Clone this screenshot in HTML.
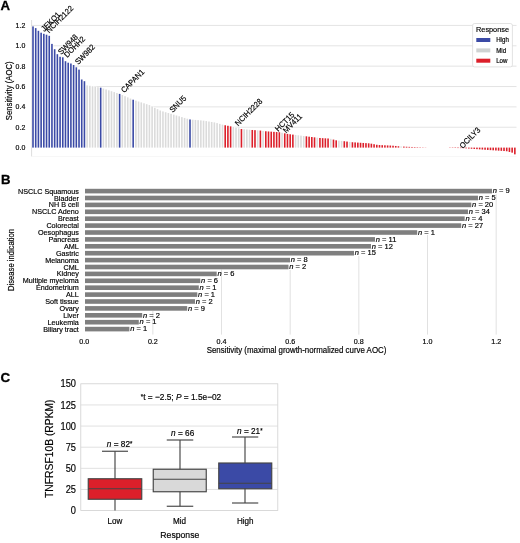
<!DOCTYPE html>
<html lang="en"><head><meta charset="utf-8"><title>Figure</title>
<style>html,body{margin:0;padding:0;background:#fff}svg{display:block}text{font-family:"Liberation Sans",Arial,Helvetica,sans-serif;fill:#000;stroke:#000;stroke-width:0.18px}.b{font-weight:bold;stroke-width:.3px}.i{font-style:italic}</style>
</head><body>
<svg width="520" height="543" viewBox="0 0 520 543">
<rect width="520" height="543" fill="#fff"/>
<g id="panelA">
<text transform="translate(0.60,10.10)" font-size="13.2" class="b">A</text>
<text transform="translate(25.30,150.20) scale(0.93,1)" font-size="7.5" text-anchor="end">0.0</text>
<line x1="31.6" y1="127.24" x2="516.5" y2="127.24" stroke="#d9d9d9" stroke-width="0.7"/>
<text transform="translate(25.30,129.84) scale(0.93,1)" font-size="7.5" text-anchor="end">0.2</text>
<line x1="31.6" y1="106.88" x2="516.5" y2="106.88" stroke="#d9d9d9" stroke-width="0.7"/>
<text transform="translate(25.30,109.48) scale(0.93,1)" font-size="7.5" text-anchor="end">0.4</text>
<line x1="31.6" y1="86.52" x2="516.5" y2="86.52" stroke="#d9d9d9" stroke-width="0.7"/>
<text transform="translate(25.30,89.12) scale(0.93,1)" font-size="7.5" text-anchor="end">0.6</text>
<line x1="31.6" y1="66.16" x2="516.5" y2="66.16" stroke="#d9d9d9" stroke-width="0.7"/>
<text transform="translate(25.30,68.76) scale(0.93,1)" font-size="7.5" text-anchor="end">0.8</text>
<line x1="31.6" y1="45.80" x2="516.5" y2="45.80" stroke="#d9d9d9" stroke-width="0.7"/>
<text transform="translate(25.30,48.40) scale(0.93,1)" font-size="7.5" text-anchor="end">1.0</text>
<line x1="31.6" y1="25.44" x2="516.5" y2="25.44" stroke="#d9d9d9" stroke-width="0.7"/>
<text transform="translate(25.30,28.04) scale(0.93,1)" font-size="7.5" text-anchor="end">1.2</text>
<line x1="31.6" y1="20" x2="31.6" y2="156.5" stroke="#cfcfcf" stroke-width="0.7"/>
<line x1="31.6" y1="156.5" x2="516.5" y2="156.5" stroke="#f3f3f3" stroke-width="0.7"/>
<text transform="translate(12.20,90.80) rotate(-90) scale(0.93,1)" font-size="8.3" text-anchor="middle">Sensitivity (AOC)</text>
<path d="M31.60 26.10h2.81v121.50h-2.81zM34.30 27.80h2.81v119.80h-2.81zM37.01 30.50h2.81v117.10h-2.81zM39.72 32.40h2.81v115.20h-2.81zM42.42 33.50h2.81v114.10h-2.81zM45.13 34.40h2.81v113.20h-2.81zM47.84 35.50h2.81v112.10h-2.81zM50.55 43.60h2.81v104.00h-2.81zM53.25 48.90h2.81v98.70h-2.81zM55.96 53.90h2.81v93.70h-2.81zM58.67 56.50h2.81v91.10h-2.81zM61.37 57.00h2.81v90.60h-2.81zM64.08 60.90h2.81v86.70h-2.81zM66.79 62.40h2.81v85.20h-2.81zM69.49 63.20h2.81v84.40h-2.81zM72.20 64.70h2.81v82.90h-2.81zM74.91 67.00h2.81v80.60h-2.81zM77.62 69.30h2.81v78.30h-2.81zM80.32 79.20h2.81v68.40h-2.81zM83.03 80.90h2.81v66.70h-2.81zM85.74 85.10h2.81v62.50h-2.81zM88.44 85.49h2.81v62.11h-2.81zM91.15 85.96h2.81v61.64h-2.81zM93.86 86.43h2.81v61.17h-2.81zM96.56 86.91h2.81v60.69h-2.81zM99.27 87.38h2.81v60.22h-2.81zM101.98 88.25h2.81v59.35h-2.81zM104.69 89.14h2.81v58.46h-2.81zM107.39 90.02h2.81v57.58h-2.81zM110.10 90.91h2.81v56.69h-2.81zM112.81 91.80h2.81v55.80h-2.81zM115.51 92.69h2.81v54.91h-2.81zM118.22 93.58h2.81v54.02h-2.81zM120.93 94.74h2.81v52.86h-2.81zM123.63 95.91h2.81v51.69h-2.81zM126.34 97.08h2.81v50.52h-2.81zM129.05 98.25h2.81v49.35h-2.81zM131.76 99.42h2.81v48.18h-2.81zM134.46 100.31h2.81v47.29h-2.81zM137.17 101.20h2.81v46.40h-2.81zM139.88 102.09h2.81v45.51h-2.81zM142.58 102.98h2.81v44.62h-2.81zM145.29 103.88h2.81v43.72h-2.81zM148.00 104.80h2.81v42.80h-2.81zM150.70 106.15h2.81v41.45h-2.81zM153.41 107.51h2.81v40.09h-2.81zM156.12 108.86h2.81v38.74h-2.81zM158.83 110.21h2.81v37.39h-2.81zM161.53 111.13h2.81v36.47h-2.81zM164.24 111.93h2.81v35.67h-2.81zM166.95 112.73h2.81v34.87h-2.81zM169.65 113.53h2.81v34.07h-2.81zM172.36 114.35h2.81v33.25h-2.81zM175.07 115.17h2.81v32.43h-2.81zM177.77 115.99h2.81v31.61h-2.81zM180.48 116.82h2.81v30.78h-2.81zM183.19 117.63h2.81v29.97h-2.81zM185.90 118.40h2.81v29.20h-2.81zM188.60 119.17h2.81v28.43h-2.81zM191.31 119.41h2.81v28.19h-2.81zM194.02 119.63h2.81v27.97h-2.81zM196.72 119.85h2.81v27.75h-2.81zM199.43 120.07h2.81v27.53h-2.81zM202.14 120.37h2.81v27.23h-2.81zM204.84 120.80h2.81v26.80h-2.81zM207.55 121.23h2.81v26.37h-2.81zM210.26 121.67h2.81v25.93h-2.81zM212.97 122.10h2.81v25.50h-2.81zM215.67 122.79h2.81v24.81h-2.81zM218.38 123.57h2.81v24.03h-2.81zM221.09 124.34h2.81v23.26h-2.81zM223.79 124.97h2.81v22.63h-2.81zM226.50 125.48h2.81v22.12h-2.81zM229.21 126.05h2.81v21.55h-2.81zM231.91 126.63h2.81v20.97h-2.81zM234.62 127.21h2.81v20.39h-2.81zM237.33 128.02h2.81v19.58h-2.81zM240.04 128.74h2.81v18.86h-2.81zM242.74 128.97h2.81v18.63h-2.81zM245.45 129.21h2.81v18.39h-2.81zM248.16 129.44h2.81v18.16h-2.81zM250.86 129.68h2.81v17.92h-2.81zM253.57 129.86h2.81v17.74h-2.81zM256.28 130.05h2.81v17.55h-2.81zM258.98 130.25h2.81v17.35h-2.81zM261.69 130.63h2.81v16.97h-2.81zM264.40 130.96h2.81v16.64h-2.81zM267.11 131.16h2.81v16.44h-2.81zM269.81 131.36h2.81v16.24h-2.81zM272.52 131.55h2.81v16.05h-2.81zM275.23 131.75h2.81v15.85h-2.81zM277.93 131.95h2.81v15.65h-2.81zM280.64 132.43h2.81v15.17h-2.81zM283.35 133.01h2.81v14.59h-2.81zM286.05 133.58h2.81v14.02h-2.81zM288.76 133.97h2.81v13.63h-2.81zM291.47 134.31h2.81v13.29h-2.81zM294.18 134.65h2.81v12.95h-2.81zM296.88 134.99h2.81v12.61h-2.81zM299.59 135.33h2.81v12.27h-2.81zM302.30 135.68h2.81v11.92h-2.81zM305.00 136.03h2.81v11.57h-2.81zM307.71 136.38h2.81v11.22h-2.81zM310.42 136.72h2.81v10.88h-2.81zM313.12 137.04h2.81v10.56h-2.81zM315.83 137.37h2.81v10.23h-2.81zM318.54 137.69h2.81v9.91h-2.81zM321.25 137.86h2.81v9.74h-2.81zM323.95 138.02h2.81v9.58h-2.81zM326.66 138.18h2.81v9.42h-2.81zM329.37 138.52h2.81v9.08h-2.81zM332.07 139.29h2.81v8.31h-2.81zM334.78 140.02h2.81v7.58h-2.81zM337.49 140.32h2.81v7.28h-2.81zM340.19 140.62h2.81v6.98h-2.81zM342.90 140.92h2.81v6.68h-2.81zM345.61 141.26h2.81v6.34h-2.81zM348.32 141.61h2.81v5.99h-2.81zM351.02 141.93h2.81v5.67h-2.81zM353.73 142.11h2.81v5.49h-2.81zM356.44 142.29h2.81v5.31h-2.81zM359.14 142.47h2.81v5.13h-2.81zM361.85 142.65h2.81v4.95h-2.81zM364.56 142.83h2.81v4.77h-2.81zM367.26 143.01h2.81v4.59h-2.81zM369.97 143.38h2.81v4.22h-2.81zM372.68 143.92h2.81v3.68h-2.81zM375.39 144.46h2.81v3.14h-2.81zM378.09 144.76h2.81v2.84h-2.81zM380.80 144.88h2.81v2.72h-2.81zM383.51 145.00h2.81v2.60h-2.81zM386.21 145.11h2.81v2.49h-2.81zM388.92 145.23h2.81v2.37h-2.81zM391.63 145.40h2.81v2.20h-2.81zM394.33 145.67h2.81v1.93h-2.81zM397.04 145.94h2.81v1.66h-2.81zM399.75 146.16h2.81v1.44h-2.81zM402.46 146.29h2.81v1.31h-2.81z" fill="#fff"/>
<rect x="32.20" y="26.40" width="1.6" height="121.20" fill="#3b4aa6"/>
<rect x="34.91" y="28.10" width="1.6" height="119.50" fill="#3b4aa6"/>
<rect x="37.61" y="30.80" width="1.6" height="116.80" fill="#3b4aa6"/>
<rect x="40.32" y="32.70" width="1.6" height="114.90" fill="#3b4aa6"/>
<rect x="43.03" y="33.80" width="1.6" height="113.80" fill="#3b4aa6"/>
<rect x="45.73" y="34.70" width="1.6" height="112.90" fill="#3b4aa6"/>
<rect x="48.44" y="35.80" width="1.6" height="111.80" fill="#3b4aa6"/>
<rect x="51.15" y="43.90" width="1.6" height="103.70" fill="#3b4aa6"/>
<rect x="53.86" y="49.20" width="1.6" height="98.40" fill="#3b4aa6"/>
<rect x="56.56" y="54.20" width="1.6" height="93.40" fill="#3b4aa6"/>
<rect x="59.27" y="56.80" width="1.6" height="90.80" fill="#3b4aa6"/>
<rect x="61.98" y="57.30" width="1.6" height="90.30" fill="#3b4aa6"/>
<rect x="64.68" y="61.20" width="1.6" height="86.40" fill="#3b4aa6"/>
<rect x="67.39" y="62.70" width="1.6" height="84.90" fill="#3b4aa6"/>
<rect x="70.10" y="63.50" width="1.6" height="84.10" fill="#3b4aa6"/>
<rect x="72.80" y="65.00" width="1.6" height="82.60" fill="#3b4aa6"/>
<rect x="75.51" y="67.30" width="1.6" height="80.30" fill="#3b4aa6"/>
<rect x="78.22" y="69.60" width="1.6" height="78.00" fill="#3b4aa6"/>
<rect x="80.93" y="79.50" width="1.6" height="68.10" fill="#3b4aa6"/>
<rect x="83.63" y="81.20" width="1.6" height="66.40" fill="#3b4aa6"/>
<rect x="86.34" y="85.40" width="1.6" height="62.20" fill="#dbdbdb"/>
<rect x="89.05" y="85.79" width="1.6" height="61.81" fill="#dbdbdb"/>
<rect x="91.75" y="86.26" width="1.6" height="61.34" fill="#dbdbdb"/>
<rect x="94.46" y="86.73" width="1.6" height="60.87" fill="#dbdbdb"/>
<rect x="97.17" y="87.21" width="1.6" height="60.39" fill="#dbdbdb"/>
<rect x="99.88" y="87.68" width="1.6" height="59.92" fill="#3b4aa6"/>
<rect x="102.58" y="88.55" width="1.6" height="59.05" fill="#dbdbdb"/>
<rect x="105.29" y="89.44" width="1.6" height="58.16" fill="#dbdbdb"/>
<rect x="108.00" y="90.32" width="1.6" height="57.28" fill="#dbdbdb"/>
<rect x="110.70" y="91.21" width="1.6" height="56.39" fill="#dbdbdb"/>
<rect x="113.41" y="92.10" width="1.6" height="55.50" fill="#dbdbdb"/>
<rect x="116.12" y="92.99" width="1.6" height="54.61" fill="#dbdbdb"/>
<rect x="118.82" y="93.88" width="1.6" height="53.72" fill="#3b4aa6"/>
<rect x="121.53" y="95.04" width="1.6" height="52.56" fill="#dbdbdb"/>
<rect x="124.24" y="96.21" width="1.6" height="51.39" fill="#dbdbdb"/>
<rect x="126.94" y="97.38" width="1.6" height="50.22" fill="#dbdbdb"/>
<rect x="129.65" y="98.55" width="1.6" height="49.05" fill="#dbdbdb"/>
<rect x="132.36" y="99.72" width="1.6" height="47.88" fill="#3b4aa6"/>
<rect x="135.07" y="100.61" width="1.6" height="46.99" fill="#dbdbdb"/>
<rect x="137.77" y="101.50" width="1.6" height="46.10" fill="#dbdbdb"/>
<rect x="140.48" y="102.39" width="1.6" height="45.21" fill="#dbdbdb"/>
<rect x="143.19" y="103.28" width="1.6" height="44.32" fill="#dbdbdb"/>
<rect x="145.89" y="104.18" width="1.6" height="43.42" fill="#dbdbdb"/>
<rect x="148.60" y="105.10" width="1.6" height="42.50" fill="#dbdbdb"/>
<rect x="151.31" y="106.45" width="1.6" height="41.15" fill="#dbdbdb"/>
<rect x="154.01" y="107.81" width="1.6" height="39.79" fill="#dbdbdb"/>
<rect x="156.72" y="109.16" width="1.6" height="38.44" fill="#dbdbdb"/>
<rect x="159.43" y="110.51" width="1.6" height="37.09" fill="#dbdbdb"/>
<rect x="162.14" y="111.43" width="1.6" height="36.17" fill="#dbdbdb"/>
<rect x="164.84" y="112.23" width="1.6" height="35.37" fill="#dbdbdb"/>
<rect x="167.55" y="113.03" width="1.6" height="34.57" fill="#dbdbdb"/>
<rect x="170.26" y="113.83" width="1.6" height="33.77" fill="#dbdbdb"/>
<rect x="172.96" y="114.65" width="1.6" height="32.95" fill="#dbdbdb"/>
<rect x="175.67" y="115.47" width="1.6" height="32.13" fill="#dbdbdb"/>
<rect x="178.38" y="116.29" width="1.6" height="31.31" fill="#dbdbdb"/>
<rect x="181.08" y="117.12" width="1.6" height="30.48" fill="#dbdbdb"/>
<rect x="183.79" y="117.93" width="1.6" height="29.67" fill="#dbdbdb"/>
<rect x="186.50" y="118.70" width="1.6" height="28.90" fill="#dbdbdb"/>
<rect x="189.21" y="119.47" width="1.6" height="28.13" fill="#3b4aa6"/>
<rect x="191.91" y="119.71" width="1.6" height="27.89" fill="#dbdbdb"/>
<rect x="194.62" y="119.93" width="1.6" height="27.67" fill="#dbdbdb"/>
<rect x="197.33" y="120.15" width="1.6" height="27.45" fill="#dbdbdb"/>
<rect x="200.03" y="120.37" width="1.6" height="27.23" fill="#dbdbdb"/>
<rect x="202.74" y="120.67" width="1.6" height="26.93" fill="#dbdbdb"/>
<rect x="205.45" y="121.10" width="1.6" height="26.50" fill="#dbdbdb"/>
<rect x="208.15" y="121.53" width="1.6" height="26.07" fill="#dbdbdb"/>
<rect x="210.86" y="121.97" width="1.6" height="25.63" fill="#dbdbdb"/>
<rect x="213.57" y="122.40" width="1.6" height="25.20" fill="#dbdbdb"/>
<rect x="216.28" y="123.09" width="1.6" height="24.51" fill="#dbdbdb"/>
<rect x="218.98" y="123.87" width="1.6" height="23.73" fill="#dbdbdb"/>
<rect x="221.69" y="124.64" width="1.6" height="22.96" fill="#dbdbdb"/>
<rect x="224.40" y="125.27" width="1.6" height="22.33" fill="#dc1f2a"/>
<rect x="227.10" y="125.78" width="1.6" height="21.82" fill="#dc1f2a"/>
<rect x="229.81" y="126.35" width="1.6" height="21.25" fill="#dc1f2a"/>
<rect x="232.52" y="126.93" width="1.6" height="20.67" fill="#dbdbdb"/>
<rect x="235.22" y="127.51" width="1.6" height="20.09" fill="#dbdbdb"/>
<rect x="237.93" y="128.32" width="1.6" height="19.28" fill="#dbdbdb"/>
<rect x="240.64" y="129.04" width="1.6" height="18.56" fill="#dc1f2a"/>
<rect x="243.35" y="129.27" width="1.6" height="18.33" fill="#dbdbdb"/>
<rect x="246.05" y="129.51" width="1.6" height="18.09" fill="#dbdbdb"/>
<rect x="248.76" y="129.74" width="1.6" height="17.86" fill="#dbdbdb"/>
<rect x="251.47" y="129.98" width="1.6" height="17.62" fill="#dc1f2a"/>
<rect x="254.17" y="130.16" width="1.6" height="17.44" fill="#dc1f2a"/>
<rect x="256.88" y="130.35" width="1.6" height="17.25" fill="#dbdbdb"/>
<rect x="259.59" y="130.55" width="1.6" height="17.05" fill="#dc1f2a"/>
<rect x="262.30" y="130.93" width="1.6" height="16.67" fill="#dbdbdb"/>
<rect x="265.00" y="131.26" width="1.6" height="16.34" fill="#dc1f2a"/>
<rect x="267.71" y="131.46" width="1.6" height="16.14" fill="#dc1f2a"/>
<rect x="270.42" y="131.66" width="1.6" height="15.94" fill="#dc1f2a"/>
<rect x="273.12" y="131.85" width="1.6" height="15.75" fill="#dc1f2a"/>
<rect x="275.83" y="132.05" width="1.6" height="15.55" fill="#dc1f2a"/>
<rect x="278.54" y="132.25" width="1.6" height="15.35" fill="#dc1f2a"/>
<rect x="281.24" y="132.73" width="1.6" height="14.87" fill="#dbdbdb"/>
<rect x="283.95" y="133.31" width="1.6" height="14.29" fill="#dc1f2a"/>
<rect x="286.66" y="133.88" width="1.6" height="13.72" fill="#dc1f2a"/>
<rect x="289.36" y="134.27" width="1.6" height="13.33" fill="#dc1f2a"/>
<rect x="292.07" y="134.61" width="1.6" height="12.99" fill="#dc1f2a"/>
<rect x="294.78" y="134.95" width="1.6" height="12.65" fill="#dbdbdb"/>
<rect x="297.49" y="135.29" width="1.6" height="12.31" fill="#dbdbdb"/>
<rect x="300.19" y="135.63" width="1.6" height="11.97" fill="#dbdbdb"/>
<rect x="302.90" y="135.98" width="1.6" height="11.62" fill="#dbdbdb"/>
<rect x="305.61" y="136.33" width="1.6" height="11.27" fill="#dc1f2a"/>
<rect x="308.31" y="136.68" width="1.6" height="10.92" fill="#dc1f2a"/>
<rect x="311.02" y="137.02" width="1.6" height="10.58" fill="#dc1f2a"/>
<rect x="313.73" y="137.34" width="1.6" height="10.26" fill="#dc1f2a"/>
<rect x="316.43" y="137.67" width="1.6" height="9.93" fill="#dbdbdb"/>
<rect x="319.14" y="137.99" width="1.6" height="9.61" fill="#dc1f2a"/>
<rect x="321.85" y="138.16" width="1.6" height="9.44" fill="#dc1f2a"/>
<rect x="324.56" y="138.32" width="1.6" height="9.28" fill="#dc1f2a"/>
<rect x="327.26" y="138.48" width="1.6" height="9.12" fill="#dc1f2a"/>
<rect x="329.97" y="138.82" width="1.6" height="8.78" fill="#dbdbdb"/>
<rect x="332.68" y="139.59" width="1.6" height="8.01" fill="#dc1f2a"/>
<rect x="335.38" y="140.32" width="1.6" height="7.28" fill="#dc1f2a"/>
<rect x="338.09" y="140.62" width="1.6" height="6.98" fill="#dbdbdb"/>
<rect x="340.80" y="140.92" width="1.6" height="6.68" fill="#dbdbdb"/>
<rect x="343.50" y="141.22" width="1.6" height="6.38" fill="#dc1f2a"/>
<rect x="346.21" y="141.56" width="1.6" height="6.04" fill="#dc1f2a"/>
<rect x="348.92" y="141.91" width="1.6" height="5.69" fill="#dbdbdb"/>
<rect x="351.63" y="142.23" width="1.6" height="5.37" fill="#dc1f2a"/>
<rect x="354.33" y="142.41" width="1.6" height="5.19" fill="#dc1f2a"/>
<rect x="357.04" y="142.59" width="1.6" height="5.01" fill="#dc1f2a"/>
<rect x="359.75" y="142.77" width="1.6" height="4.83" fill="#dc1f2a"/>
<rect x="362.45" y="142.95" width="1.6" height="4.65" fill="#dc1f2a"/>
<rect x="365.16" y="143.13" width="1.6" height="4.47" fill="#dc1f2a"/>
<rect x="367.87" y="143.31" width="1.6" height="4.29" fill="#dc1f2a"/>
<rect x="370.57" y="143.68" width="1.6" height="3.92" fill="#dc1f2a"/>
<rect x="373.28" y="144.22" width="1.6" height="3.38" fill="#dc1f2a"/>
<rect x="375.99" y="144.76" width="1.6" height="2.84" fill="#dc1f2a"/>
<rect x="378.70" y="145.06" width="1.6" height="2.54" fill="#dc1f2a"/>
<rect x="381.40" y="145.18" width="1.6" height="2.42" fill="#dc1f2a"/>
<rect x="384.11" y="145.30" width="1.6" height="2.30" fill="#dc1f2a"/>
<rect x="386.82" y="145.41" width="1.6" height="2.19" fill="#dc1f2a"/>
<rect x="389.52" y="145.53" width="1.6" height="2.07" fill="#dc1f2a"/>
<rect x="392.23" y="145.70" width="1.6" height="1.90" fill="#dc1f2a"/>
<rect x="394.94" y="145.97" width="1.6" height="1.63" fill="#dc1f2a"/>
<rect x="397.64" y="146.24" width="1.6" height="1.36" fill="#dc1f2a"/>
<rect x="400.35" y="146.46" width="1.6" height="1.14" fill="#dbdbdb"/>
<rect x="403.06" y="146.59" width="1.6" height="1.01" fill="#dc1f2a"/>
<rect x="405.77" y="146.73" width="1.6" height="0.87" fill="#dc1f2a"/>
<rect x="408.47" y="146.86" width="1.6" height="0.74" fill="#dc1f2a"/>
<rect x="411.18" y="146.97" width="1.6" height="0.63" fill="#dc1f2a"/>
<rect x="413.89" y="147.08" width="1.6" height="0.52" fill="#dc1f2a"/>
<rect x="416.59" y="147.18" width="1.6" height="0.42" fill="#dc1f2a"/>
<rect x="419.30" y="147.27" width="1.6" height="0.33" fill="#dc1f2a"/>
<rect x="422.01" y="147.36" width="1.6" height="0.24" fill="#dc1f2a"/>
<rect x="424.71" y="147.44" width="1.6" height="0.16" fill="#dc1f2a"/>
<rect x="449.08" y="147.60" width="1.6" height="0.27" fill="#dc1f2a"/>
<rect x="451.78" y="147.60" width="1.6" height="0.33" fill="#dc1f2a"/>
<rect x="454.49" y="147.60" width="1.6" height="0.40" fill="#dc1f2a"/>
<rect x="457.20" y="147.60" width="1.6" height="0.46" fill="#dc1f2a"/>
<rect x="459.91" y="147.60" width="1.6" height="0.52" fill="#dc1f2a"/>
<rect x="462.61" y="147.60" width="1.6" height="0.59" fill="#dc1f2a"/>
<rect x="465.32" y="147.60" width="1.6" height="0.76" fill="#dc1f2a"/>
<rect x="468.03" y="147.60" width="1.6" height="0.96" fill="#dc1f2a"/>
<rect x="470.73" y="147.60" width="1.6" height="1.16" fill="#dc1f2a"/>
<rect x="473.44" y="147.60" width="1.6" height="1.36" fill="#dc1f2a"/>
<rect x="476.15" y="147.60" width="1.6" height="1.56" fill="#dc1f2a"/>
<rect x="478.85" y="147.60" width="1.6" height="1.76" fill="#dc1f2a"/>
<rect x="481.56" y="147.60" width="1.6" height="1.96" fill="#dc1f2a"/>
<rect x="484.27" y="147.60" width="1.6" height="2.16" fill="#dc1f2a"/>
<rect x="486.98" y="147.60" width="1.6" height="2.35" fill="#dc1f2a"/>
<rect x="489.68" y="147.60" width="1.6" height="2.53" fill="#dc1f2a"/>
<rect x="492.39" y="147.60" width="1.6" height="2.71" fill="#dc1f2a"/>
<rect x="495.10" y="147.60" width="1.6" height="2.89" fill="#dc1f2a"/>
<rect x="497.80" y="147.60" width="1.6" height="3.07" fill="#dc1f2a"/>
<rect x="500.51" y="147.60" width="1.6" height="3.25" fill="#dc1f2a"/>
<rect x="503.22" y="147.60" width="1.6" height="3.43" fill="#dc1f2a"/>
<rect x="505.92" y="147.60" width="1.6" height="3.66" fill="#dc1f2a"/>
<rect x="508.63" y="147.60" width="1.6" height="4.36" fill="#dc1f2a"/>
<rect x="511.34" y="147.60" width="1.6" height="5.06" fill="#dc1f2a"/>
<rect x="514.05" y="147.60" width="1.6" height="6.76" fill="#dc1f2a"/>
<text transform="translate(44.30,31.90) rotate(-45) scale(0.93,1)" font-size="8.0">JEKO1</text>
<text transform="translate(49.30,33.40) rotate(-45) scale(0.93,1)" font-size="8.0">NCIH2122</text>
<text transform="translate(61.30,54.90) rotate(-45) scale(0.93,1)" font-size="8.0">SW948</text>
<text transform="translate(67.30,57.90) rotate(-45) scale(0.93,1)" font-size="8.0">DOHH2</text>
<text transform="translate(78.30,64.90) rotate(-45) scale(0.93,1)" font-size="8.0">SW982</text>
<text transform="translate(124.30,93.20) rotate(-45) scale(0.93,1)" font-size="8.0">CAPAN1</text>
<text transform="translate(172.80,112.90) rotate(-45) scale(0.93,1)" font-size="8.0">SNU5</text>
<text transform="translate(238.30,126.40) rotate(-45) scale(0.93,1)" font-size="8.0">NCIH2228</text>
<text transform="translate(278.30,132.10) rotate(-45) scale(0.93,1)" font-size="8.0">HCT15</text>
<text transform="translate(286.30,133.40) rotate(-45) scale(0.93,1)" font-size="8.0">MV411</text>
<text transform="translate(462.70,148.90) rotate(-45) scale(0.93,1)" font-size="8.0">OCILY3</text>
<rect x="472.6" y="23.5" width="39.8" height="43.4" rx="2" ry="2" fill="#fff" stroke="#d5d5d5" stroke-width="0.7"/>
<text transform="translate(492.50,32.40) scale(0.93,1)" font-size="7.9" text-anchor="middle">Response</text>
<rect x="476.3" y="38" width="14" height="4" fill="#3b4aa6"/>
<text transform="translate(496.20,42.30) scale(0.93,1)" font-size="6.6">High</text>
<rect x="476.3" y="48.4" width="14" height="4" fill="#cfd2d2"/>
<text transform="translate(496.20,52.70) scale(0.93,1)" font-size="6.6">Mid</text>
<rect x="476.3" y="58.7" width="14" height="4" fill="#dc1f2a"/>
<text transform="translate(496.20,63.00) scale(0.93,1)" font-size="6.6">Low</text>
</g>
<g id="panelB">
<text transform="translate(0.90,183.60)" font-size="13.2" class="b">B</text>
<line x1="152.86" y1="311" x2="152.86" y2="334.6" stroke="#d9d9d9" stroke-width="0.8"/>
<line x1="221.52" y1="269.5" x2="221.52" y2="334.6" stroke="#d9d9d9" stroke-width="0.8"/>
<line x1="290.18" y1="270" x2="290.18" y2="334.6" stroke="#d9d9d9" stroke-width="0.8"/>
<line x1="358.84" y1="256" x2="358.84" y2="334.6" stroke="#d9d9d9" stroke-width="0.8"/>
<line x1="427.50" y1="235" x2="427.50" y2="334.6" stroke="#d9d9d9" stroke-width="0.8"/>
<line x1="496.16" y1="194" x2="496.16" y2="334.6" stroke="#d9d9d9" stroke-width="0.8"/>
<text transform="translate(84.20,343.60) scale(0.93,1)" font-size="7.7" text-anchor="middle">0.0</text>
<text transform="translate(152.86,343.60) scale(0.93,1)" font-size="7.7" text-anchor="middle">0.2</text>
<text transform="translate(221.52,343.60) scale(0.93,1)" font-size="7.7" text-anchor="middle">0.4</text>
<text transform="translate(290.18,343.60) scale(0.93,1)" font-size="7.7" text-anchor="middle">0.6</text>
<text transform="translate(358.84,343.60) scale(0.93,1)" font-size="7.7" text-anchor="middle">0.8</text>
<text transform="translate(427.50,343.60) scale(0.93,1)" font-size="7.7" text-anchor="middle">1.0</text>
<text transform="translate(496.16,343.60) scale(0.93,1)" font-size="7.7" text-anchor="middle">1.2</text>
<rect x="85" y="188.80" width="407.00" height="4.6" fill="#7f7f7f"/>
<text transform="translate(78.80,193.60) scale(0.93,1)" font-size="7.75" text-anchor="end">NSCLC Squamous</text>
<text transform="translate(492.80,193.30) scale(0.93,1)" font-size="8.1"><tspan class="i">n</tspan> = 9</text>
<rect x="85" y="195.70" width="393.00" height="4.6" fill="#7f7f7f"/>
<text transform="translate(78.80,200.50) scale(0.93,1)" font-size="7.75" text-anchor="end">Bladder</text>
<text transform="translate(478.80,200.20) scale(0.93,1)" font-size="8.1"><tspan class="i">n</tspan> = 5</text>
<rect x="85" y="202.60" width="386.30" height="4.6" fill="#7f7f7f"/>
<text transform="translate(78.80,207.40) scale(0.93,1)" font-size="7.75" text-anchor="end">NH B cell</text>
<text transform="translate(472.10,207.10) scale(0.93,1)" font-size="8.1"><tspan class="i">n</tspan> = 20</text>
<rect x="85" y="209.50" width="383.00" height="4.6" fill="#7f7f7f"/>
<text transform="translate(78.80,214.30) scale(0.93,1)" font-size="7.75" text-anchor="end">NSCLC Adeno</text>
<text transform="translate(468.80,214.00) scale(0.93,1)" font-size="8.1"><tspan class="i">n</tspan> = 34</text>
<rect x="85" y="216.40" width="379.70" height="4.6" fill="#7f7f7f"/>
<text transform="translate(78.80,221.20) scale(0.93,1)" font-size="7.75" text-anchor="end">Breast</text>
<text transform="translate(465.50,220.90) scale(0.93,1)" font-size="8.1"><tspan class="i">n</tspan> = 4</text>
<rect x="85" y="223.30" width="376.20" height="4.6" fill="#7f7f7f"/>
<text transform="translate(78.80,228.10) scale(0.93,1)" font-size="7.75" text-anchor="end">Colorectal</text>
<text transform="translate(462.00,227.80) scale(0.93,1)" font-size="8.1"><tspan class="i">n</tspan> = 27</text>
<rect x="85" y="230.20" width="332.20" height="4.6" fill="#7f7f7f"/>
<text transform="translate(78.80,235.00) scale(0.93,1)" font-size="7.75" text-anchor="end">Oesophagus</text>
<text transform="translate(418.00,234.70) scale(0.93,1)" font-size="8.1"><tspan class="i">n</tspan> = 1</text>
<rect x="85" y="237.10" width="290.00" height="4.6" fill="#7f7f7f"/>
<text transform="translate(78.80,241.90) scale(0.93,1)" font-size="7.75" text-anchor="end">Pancreas</text>
<text transform="translate(375.80,241.60) scale(0.93,1)" font-size="8.1"><tspan class="i">n</tspan> = 11</text>
<rect x="85" y="244.00" width="286.00" height="4.6" fill="#7f7f7f"/>
<text transform="translate(78.80,248.80) scale(0.93,1)" font-size="7.75" text-anchor="end">AML</text>
<text transform="translate(371.80,248.50) scale(0.93,1)" font-size="8.1"><tspan class="i">n</tspan> = 12</text>
<rect x="85" y="250.90" width="269.00" height="4.6" fill="#7f7f7f"/>
<text transform="translate(78.80,255.70) scale(0.93,1)" font-size="7.75" text-anchor="end">Gastric</text>
<text transform="translate(354.80,255.40) scale(0.93,1)" font-size="8.1"><tspan class="i">n</tspan> = 15</text>
<rect x="85" y="257.80" width="205.00" height="4.6" fill="#7f7f7f"/>
<text transform="translate(78.80,262.60) scale(0.93,1)" font-size="7.75" text-anchor="end">Melanoma</text>
<text transform="translate(290.80,262.30) scale(0.93,1)" font-size="8.1"><tspan class="i">n</tspan> = 8</text>
<rect x="85" y="264.70" width="203.50" height="4.6" fill="#7f7f7f"/>
<text transform="translate(78.80,269.50) scale(0.93,1)" font-size="7.75" text-anchor="end">CML</text>
<text transform="translate(289.30,269.20) scale(0.93,1)" font-size="8.1"><tspan class="i">n</tspan> = 2</text>
<rect x="85" y="271.60" width="131.70" height="4.6" fill="#7f7f7f"/>
<text transform="translate(78.80,276.40) scale(0.93,1)" font-size="7.75" text-anchor="end">Kidney</text>
<text transform="translate(217.50,276.10) scale(0.93,1)" font-size="8.1"><tspan class="i">n</tspan> = 6</text>
<rect x="85" y="278.50" width="115.30" height="4.6" fill="#7f7f7f"/>
<text transform="translate(78.80,283.30) scale(0.93,1)" font-size="7.75" text-anchor="end">Multiple myeloma</text>
<text transform="translate(201.10,283.00) scale(0.93,1)" font-size="8.1"><tspan class="i">n</tspan> = 6</text>
<rect x="85" y="285.40" width="113.80" height="4.6" fill="#7f7f7f"/>
<text transform="translate(78.80,290.20) scale(0.93,1)" font-size="7.75" text-anchor="end">Endometrium</text>
<text transform="translate(199.60,289.90) scale(0.93,1)" font-size="8.1"><tspan class="i">n</tspan> = 1</text>
<rect x="85" y="292.30" width="112.30" height="4.6" fill="#7f7f7f"/>
<text transform="translate(78.80,297.10) scale(0.93,1)" font-size="7.75" text-anchor="end">ALL</text>
<text transform="translate(198.10,296.80) scale(0.93,1)" font-size="8.1"><tspan class="i">n</tspan> = 1</text>
<rect x="85" y="299.20" width="110.00" height="4.6" fill="#7f7f7f"/>
<text transform="translate(78.80,304.00) scale(0.93,1)" font-size="7.75" text-anchor="end">Soft tissue</text>
<text transform="translate(195.80,303.70) scale(0.93,1)" font-size="8.1"><tspan class="i">n</tspan> = 2</text>
<rect x="85" y="306.10" width="102.20" height="4.6" fill="#7f7f7f"/>
<text transform="translate(78.80,310.90) scale(0.93,1)" font-size="7.75" text-anchor="end">Ovary</text>
<text transform="translate(188.00,310.60) scale(0.93,1)" font-size="8.1"><tspan class="i">n</tspan> = 9</text>
<rect x="85" y="313.00" width="57.20" height="4.6" fill="#7f7f7f"/>
<text transform="translate(78.80,317.80) scale(0.93,1)" font-size="7.75" text-anchor="end">Liver</text>
<text transform="translate(143.00,317.50) scale(0.93,1)" font-size="8.1"><tspan class="i">n</tspan> = 2</text>
<rect x="85" y="319.90" width="53.80" height="4.6" fill="#7f7f7f"/>
<text transform="translate(78.80,324.70) scale(0.93,1)" font-size="7.75" text-anchor="end">Leukemia</text>
<text transform="translate(139.60,324.40) scale(0.93,1)" font-size="8.1"><tspan class="i">n</tspan> = 1</text>
<rect x="85" y="326.80" width="44.40" height="4.6" fill="#7f7f7f"/>
<text transform="translate(78.80,331.60) scale(0.93,1)" font-size="7.75" text-anchor="end">Biliary tract</text>
<text transform="translate(130.20,331.30) scale(0.93,1)" font-size="8.1"><tspan class="i">n</tspan> = 1</text>
<text transform="translate(14.30,260.00) rotate(-90) scale(0.93,1)" font-size="8.2" text-anchor="middle">Disease indication</text>
<text transform="translate(296.50,353.00) scale(0.93,1)" font-size="8.5" text-anchor="middle">Sensitivity (maximal growth-normalized curve AOC)</text>
</g>
<g id="panelC">
<text transform="translate(0.50,382.20)" font-size="13.4" class="b">C</text>
<rect x="80.8" y="383.8" width="197.0" height="126.80000000000001" fill="#fff" stroke="#d0d0d0" stroke-width="0.8"/>
<line x1="80.8" y1="489.47" x2="277.8" y2="489.47" stroke="#d9d9d9" stroke-width="0.8"/>
<line x1="80.8" y1="468.33" x2="277.8" y2="468.33" stroke="#d9d9d9" stroke-width="0.8"/>
<line x1="80.8" y1="447.20" x2="277.8" y2="447.20" stroke="#d9d9d9" stroke-width="0.8"/>
<line x1="80.8" y1="426.07" x2="277.8" y2="426.07" stroke="#d9d9d9" stroke-width="0.8"/>
<line x1="80.8" y1="404.93" x2="277.8" y2="404.93" stroke="#d9d9d9" stroke-width="0.8"/>
<text transform="translate(76.00,514.20) scale(0.9,1)" font-size="10.3" text-anchor="end">0</text>
<text transform="translate(76.00,493.07) scale(0.9,1)" font-size="10.3" text-anchor="end">25</text>
<text transform="translate(76.00,471.93) scale(0.9,1)" font-size="10.3" text-anchor="end">50</text>
<text transform="translate(76.00,450.80) scale(0.9,1)" font-size="10.3" text-anchor="end">75</text>
<text transform="translate(76.00,429.67) scale(0.9,1)" font-size="10.3" text-anchor="end">100</text>
<text transform="translate(76.00,408.53) scale(0.9,1)" font-size="10.3" text-anchor="end">125</text>
<text transform="translate(76.00,387.40) scale(0.9,1)" font-size="10.3" text-anchor="end">150</text>
<line x1="115" y1="451.25" x2="115" y2="510.5" stroke="#444" stroke-width="1.15"/>
<line x1="102" y1="451.25" x2="128" y2="451.25" stroke="#444" stroke-width="1.15"/>
<rect x="88.25" y="478.75" width="53.5" height="20.5" fill="#dc1f2a" stroke="#444" stroke-width="1.15"/>
<line x1="88.25" y1="488.75" x2="141.75" y2="488.75" stroke="#444" stroke-width="1.15"/>
<line x1="180" y1="440" x2="180" y2="506.25" stroke="#444" stroke-width="1.15"/>
<line x1="166.75" y1="440" x2="193.25" y2="440" stroke="#444" stroke-width="1.15"/>
<line x1="166.75" y1="506.25" x2="193.25" y2="506.25" stroke="#444" stroke-width="1.15"/>
<rect x="153.25" y="469.25" width="53.0" height="22.5" fill="#d9d9d9" stroke="#444" stroke-width="1.15"/>
<line x1="153.25" y1="479.25" x2="206.25" y2="479.25" stroke="#444" stroke-width="1.15"/>
<line x1="245" y1="437" x2="245" y2="503" stroke="#444" stroke-width="1.15"/>
<line x1="232" y1="437" x2="258.25" y2="437" stroke="#444" stroke-width="1.15"/>
<line x1="232" y1="503" x2="258.25" y2="503" stroke="#444" stroke-width="1.15"/>
<rect x="218.75" y="463" width="53.0" height="25.75" fill="#3b4aa6" stroke="#444" stroke-width="1.15"/>
<line x1="218.75" y1="483.25" x2="271.75" y2="483.25" stroke="#444" stroke-width="1.15"/>
<text transform="translate(119.60,447.30) scale(0.93,1)" font-size="8.9" text-anchor="middle"><tspan class="i">n</tspan> = 82<tspan font-size="6.5" dy="-1.2">*</tspan></text>
<text transform="translate(182.70,435.60) scale(0.93,1)" font-size="8.9" text-anchor="middle"><tspan class="i">n</tspan> = 66</text>
<text transform="translate(249.80,434.10) scale(0.93,1)" font-size="8.9" text-anchor="middle"><tspan class="i">n</tspan> = 21<tspan font-size="6.5" dy="-1.2">*</tspan></text>
<text transform="translate(140.80,400.40) scale(0.93,1)" font-size="8.95"><tspan font-size="6.5" dy="-1.2">*</tspan><tspan dy="1.2">t = −2.5; </tspan><tspan class="i">P</tspan> = 1.5e−02</text>
<text transform="translate(115.00,524.10) scale(0.93,1)" font-size="8.7" text-anchor="middle">Low</text>
<text transform="translate(179.60,524.10) scale(0.93,1)" font-size="8.7" text-anchor="middle">Mid</text>
<text transform="translate(245.20,524.10) scale(0.93,1)" font-size="8.7" text-anchor="middle">High</text>
<text transform="translate(179.80,538.00) scale(0.93,1)" font-size="9.3" text-anchor="middle">Response</text>
<text transform="translate(53.20,448.70) rotate(-90) scale(0.93,1)" font-size="11.1" text-anchor="middle">TNFRSF10B (RPKM)</text>
</g>
</svg></body></html>
